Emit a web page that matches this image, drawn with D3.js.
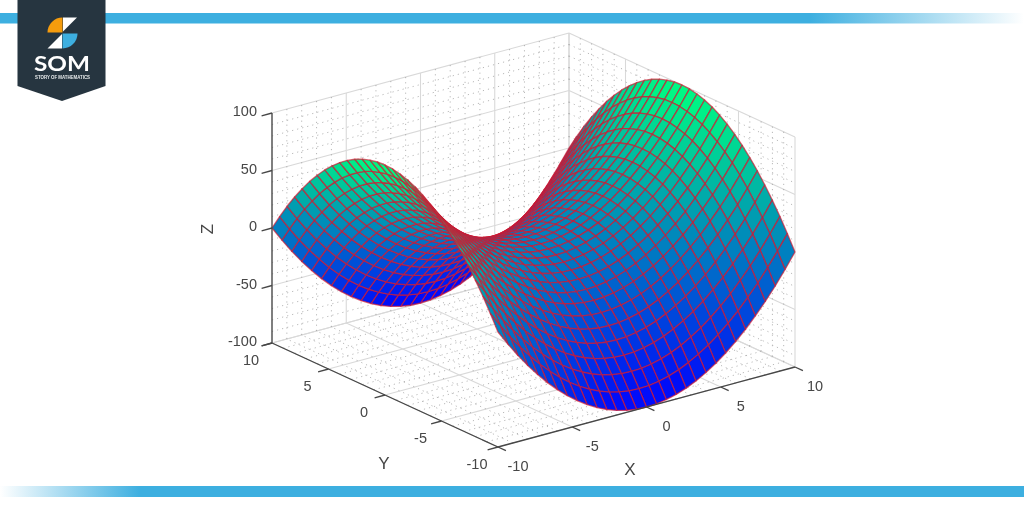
<!DOCTYPE html>
<html><head><meta charset="utf-8">
<script src="https://cdn.jsdelivr.net/npm/d3@7/dist/d3.min.js"></script>
<style>html,body{margin:0;padding:0;background:#fff}svg{display:block}text{font-family:"Liberation Sans",Arial,sans-serif}</style>
</head><body><svg id="c" width="1024" height="512"></svg>
<script>
const gridValues=[-10,-9.33,-8.67,-8,-7.33,-6.67,-6,-5.33,-4.67,-4,-3.33,-2.67,-2,-1.33,-0.67,0,0.67,1.33,2,2.67,3.33,4,4.67,5.33,6,6.67,7.33,8,8.67,9.33,10];
const row0=[0,-12.9,-24.9,-36,-46.2,-55.6,-64,-71.6,-78.2,-84,-88.9,-92.9,-96,-98.2,-99.6,-100];
const row1=[12.9,0,-12,-23.1,-33.3,-42.7,-51.1,-58.7,-65.3,-71.1,-76,-80,-83.1,-85.3,-86.7,-87.1];
const row2=[24.9,12,0,-11.1,-21.3,-30.7,-39.1,-46.7,-53.3,-59.1,-64,-68,-71.1,-73.3,-74.7,-75.1];
const row3=[36,23.1,11.1,0,-10.2,-19.6,-28,-35.6,-42.2,-48,-52.9,-56.9,-60,-62.2,-63.6,-64];
const row4=[46.2,33.3,21.3,10.2,0,-9.4,-17.8,-25.4,-32,-37.8,-42.7,-46.7,-49.8,-52,-53.4,-53.8];
const row5=[55.6,42.7,30.7,19.6,9.4,0,-8.4,-16,-22.6,-28.4,-33.3,-37.3,-40.4,-42.6,-44,-44.4];
const row6=[64,51.1,39.1,28,17.8,8.4,0,-7.6,-14.2,-20,-24.9,-28.9,-32,-34.2,-35.6,-36];
const row7=[71.6,58.7,46.7,35.6,25.4,16,7.6,0,-6.6,-12.4,-17.3,-21.3,-24.4,-26.6,-28,-28.4];
const row8=[78.2,65.3,53.3,42.2,32,22.6,14.2,6.6,0,-5.8,-10.7,-14.7,-17.8,-20,-21.4,-21.8];
const row9=[84,71.1,59.1,48,37.8,28.4,20,12.4,5.8,0,-4.9,-8.9,-12,-14.2,-15.6,-16];
const row10=[88.9,76,64,52.9,42.7,33.3,24.9,17.3,10.7,4.9,0,-4,-7.1,-9.3,-10.7,-11.1];
const row11=[92.9,80,68,56.9,46.7,37.3,28.9,21.3,14.7,8.9,4,0,-3.1,-5.3,-6.7,-7.1];
const row12=[96,83.1,71.1,60,49.8,40.4,32,24.4,17.8,12,7.1,3.1,0,-2.2,-3.6,-4];
const row13=[98.2,85.3,73.3,62.2,52,42.6,34.2,26.6,20,14.2,9.3,5.3,2.2,0,-1.4,-1.8];
const row14=[99.6,86.7,74.7,63.6,53.4,44,35.6,28,21.4,15.6,10.7,6.7,3.6,1.4,0,-0.4];
const row15=[100,87.1,75.1,64,53.8,44.4,36,28.4,21.8,16,11.1,7.1,4,1.8,0.4,0];
const halfRows=[row0,row1,row2,row3,row4,row5,row6,row7,row8,row9,row10,row11,row12,row13,row14,row15];
const both=a=>a.concat(a.slice(0,-1).reverse());
const zValues=both(halfRows).map(both);
const xyTicks=[-10,-5,0,5,10];
const zTicks=[-100,-50,0,50,100];
const xyMinor=[-9,-8,-7,-6,-4,-3,-2,-1,1,2,3,4,6,7,8,9];
const zMinor=[-90,-80,-70,-60,-40,-30,-20,-10,10,20,30,40,60,70,80,90];

const svg=d3.select("#c");
const defs=svg.append("defs");
const blur=defs.append("filter").attr("id","soft").attr("filterUnits","userSpaceOnUse").attr("x",0).attr("y",0).attr("width",1024).attr("height",512);
blur.append("feGaussianBlur").attr("stdDeviation",0.7);
const gTop=defs.append("linearGradient").attr("id","gTop");
gTop.append("stop").attr("offset",0).attr("stop-color","#3dafe0");
gTop.append("stop").attr("offset",1).attr("stop-color","#3dafe0").attr("stop-opacity",0);
const gBot=defs.append("linearGradient").attr("id","gBot");
gBot.append("stop").attr("offset",0).attr("stop-color","#3dafe0").attr("stop-opacity",0);
gBot.append("stop").attr("offset",1).attr("stop-color","#3dafe0");

svg.append("rect").attr("x",0).attr("y",13).attr("width",810).attr("height",10.5).attr("fill","#3dafe0");
svg.append("rect").attr("x",810).attr("y",13).attr("width",214).attr("height",10.5).attr("fill","url(#gTop)");
svg.append("rect").attr("x",0).attr("y",486).attr("width",140).attr("height",11).attr("fill","url(#gBot)");
svg.append("rect").attr("x",140).attr("y",486).attr("width",884).attr("height",11).attr("fill","#3dafe0");

const root=svg.append("g").attr("filter","url(#soft)");

const sxX=d3.scaleLinear().domain([-10,10]).range([0,297]);
const sxY=d3.scaleLinear().domain([-10,10]).range([0,-226]);
const syX=d3.scaleLinear().domain([-10,10]).range([0,-80]);
const syY=d3.scaleLinear().domain([-10,10]).range([0,-104]);
const syZ=d3.scaleLinear().domain([-100,100]).range([230,0]);
const ox=498, oy=217;
const P=(x,y,z)=>[ox+sxX(x)+sxY(y), oy+syX(x)+syY(y)+syZ(z)];
const color=d3.scaleLinear().domain([-100,100]).range(["#0000ff","#00ff80"]);
const line=d3.line();

const grid=root.append("g").attr("fill","none");
function seg(g,a,b){ g.append("path").attr("d",line([a,b])); }
const major=grid.append("g").attr("stroke","#d9d9d9").attr("stroke-width",1.1);
const minor=grid.append("g").attr("stroke","#9a9a9a").attr("stroke-width",1).attr("stroke-dasharray","1.2 4").attr("opacity",0.7);
function drawGrid(g,xy,zs){
  xy.forEach(t=>{
    seg(g,P(t,10,-100),P(t,10,100));
    seg(g,P(10,t,-100),P(10,t,100));
    seg(g,P(t,-10,-100),P(t,10,-100));
    seg(g,P(-10,t,-100),P(10,t,-100));
  });
  zs.forEach(z=>{
    seg(g,P(-10,10,z),P(10,10,z));
    seg(g,P(10,10,z),P(10,-10,z));
  });
}
drawGrid(major,xyTicks,zTicks);
drawGrid(minor,xyMinor,zMinor);

const surf=root.append("g").attr("stroke","#d01830").attr("stroke-width",1.35).attr("stroke-opacity",0.68).attr("stroke-linejoin","round");
for(let i=gridValues.length-2;i>=0;i--){
  for(let j=gridValues.length-2;j>=0;j--){
    const x0=gridValues[i],x1=gridValues[i+1],y0=gridValues[j],y1=gridValues[j+1];
    const zs=[zValues[j][i],zValues[j][i+1],zValues[j+1][i+1],zValues[j+1][i]];
    surf.append("path")
      .attr("d",line([P(x0,y0,zs[0]),P(x1,y0,zs[1]),P(x1,y1,zs[2]),P(x0,y1,zs[3])])+"Z")
      .attr("fill",color(d3.mean(zs)));
  }
}

const axis=root.append("g").attr("stroke","#464646").attr("stroke-width",1.3).attr("fill","none");
seg(axis,P(-10,10,-100),P(-10,10,100));
seg(axis,P(-10,10,-100),P(-10,-10,-100));
seg(axis,P(-10,-10,-100),P(10,-10,-100));
const tick=0.7;
zTicks.forEach(z=>seg(axis,P(-10,10,z),P(-10-tick,10,z)));
xyTicks.forEach(t=>{
  seg(axis,P(t,-10,-100),P(t,-10-tick,-100));
  seg(axis,P(-10,t,-100),P(-10-tick,t,-100));
});

const labels=root.append("g").attr("fill","#464646").attr("font-size",14.5);
zTicks.forEach(z=>{const p=P(-10,10,z);
  labels.append("text").attr("x",p[0]-15).attr("y",p[1]+3).attr("text-anchor","end").text(z);});
xyTicks.forEach(t=>{
  const a=P(t,-10,-100);
  labels.append("text").attr("x",a[0]+20).attr("y",a[1]+24).attr("text-anchor","middle").text(t);
  const b=P(-10,t,-100);
  labels.append("text").attr("x",b[0]-21).attr("y",b[1]+21.5).attr("text-anchor","middle").text(t);
});
const titles=root.append("g").attr("fill","#464646").attr("font-size",17).attr("text-anchor","middle");
titles.append("text").attr("transform","translate(213,229) rotate(-90)").text("Z");
titles.append("text").attr("x",384).attr("y",469).text("Y");
titles.append("text").attr("x",630).attr("y",475).text("X");

const logo=root.append("g");
logo.append("path").attr("d","M17.5,0H105.5V86L62,101L17.5,86Z").attr("fill","#27353f");
logo.append("path").attr("d","M62.5,17.5V32.5H47.5A15,15 0 0 1 62.5,17.5Z").attr("fill","#f59c0f");
logo.append("path").attr("d","M63,17.5H77L63,31.5Z").attr("fill","#ffffff");
logo.append("path").attr("d","M62.5,33.5H77.5A15,15 0 0 1 62.5,48.5Z").attr("fill","#3dafe0");
logo.append("path").attr("d","M62,34V48.5H47.5Z").attr("fill","#ffffff");
logo.append("text").attr("x",34).attr("y",71).attr("textLength",56).attr("lengthAdjust","spacingAndGlyphs")
  .attr("fill","#fff").attr("font-size",21).attr("font-weight",700).style("font-family","Lato").text("SOM");
logo.append("text").attr("x",35).attr("y",78.5).attr("textLength",55).attr("lengthAdjust","spacingAndGlyphs")
  .attr("fill","#e8ecee").attr("font-size",4.5).attr("font-weight",700).text("STORY OF MATHEMATICS");
</script></body></html>
